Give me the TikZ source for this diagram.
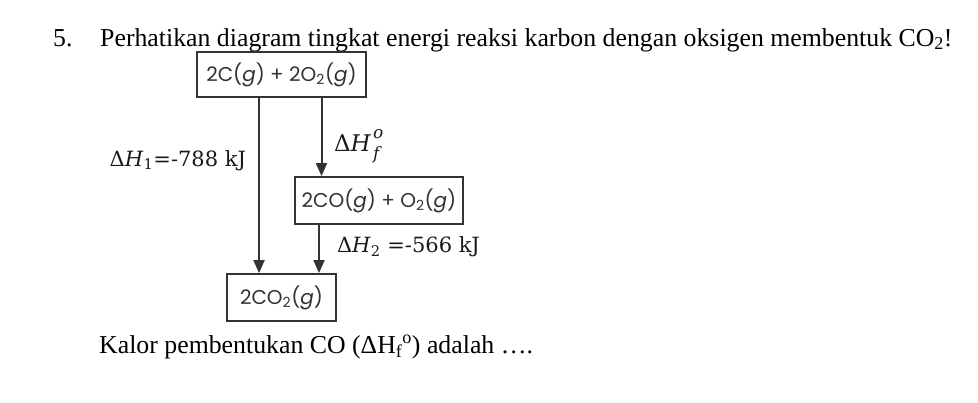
\documentclass[tikz,border=0pt]{standalone}
\usepackage{amsmath}
\usepackage{fontspec}
\usetikzlibrary{arrows.meta}
\newfontfamily\timesfont{Liberation Serif}
\newfontfamily\boxfont{Poppins}
\newfontfamily\lblfont{DejaVu Serif}

\begin{document}
\begin{tikzpicture}[x=1pt,y=-1pt,
  box/.style={draw=black!80,line width=1.8pt,text=black!80,inner sep=0pt,
    font=\boxfont\fontsize{20}{24}\selectfont},
  lbl/.style={inner sep=0pt,text=black!90,font=\lblfont\fontsize{21}{24}\selectfont},
  arr/.style={draw=black!80,line width=2pt,-{Triangle[length=13pt,width=11pt]}}]
\useasboundingbox (0,0) rectangle (978,402);
\node[anchor=base west,inner sep=0pt,font=\timesfont\fontsize{25.8}{30}\selectfont] (N) at (53,46) {5.};
\node[anchor=base west,inner sep=0pt,font=\timesfont\fontsize{25.8}{30}\selectfont] (Q) at (100,46) {Perhatikan diagram tingkat energi reaksi karbon dengan oksigen membentuk CO\textsubscript{2}!};
\node[box,minimum width=169pt,minimum height=45pt] (A) at (281.5,74.5) {2C(\textit{g}) + 2O\textsubscript{2}(\textit{g})};
\node[box,minimum width=168pt,minimum height=47pt] (B) at (379,200.5) {2CO(\textit{g}) + O\textsubscript{2}(\textit{g})};
\node[box,minimum width=109pt,minimum height=47pt] (C) at (281.5,297.5) {2CO\textsubscript{2}(\textit{g})};
\coordinate (L) at (259,0);
\coordinate (R) at (321.5,0);
\coordinate (S) at (319,0);
\draw[arr] (A.south -| L) -- node[lbl,anchor=east,pos=0.356,xshift=-12pt] {Δ\textit{H}\textsubscript{1}=-788 kJ} (C.north -| L);
\draw[arr] (A.south -| R) -- node[lbl,anchor=base west,pos=0.69,xshift=11.5pt,font=\lblfont\fontsize{23}{28}\selectfont] {Δ\textit{H}\kern2pt\rlap{\raisebox{13pt}{\fontsize{17}{20}\selectfont\itshape o}}\raisebox{-8pt}{\fontsize{17}{20}\selectfont\itshape f}} (B.north -| R);
\draw[arr] (B.south -| S) -- node[lbl,anchor=west,pos=0.46,xshift=17pt] {Δ\textit{H}\textsubscript{2} =-566 kJ} (C.north -| S);
\node[anchor=base west,inner sep=0pt,font=\timesfont\fontsize{25.8}{30}\selectfont] (K) at (99,353) {Kalor pembentukan CO (ΔH\textsubscript{f}\textsuperscript{o}) adalah ….};
\end{tikzpicture}
\end{document}
